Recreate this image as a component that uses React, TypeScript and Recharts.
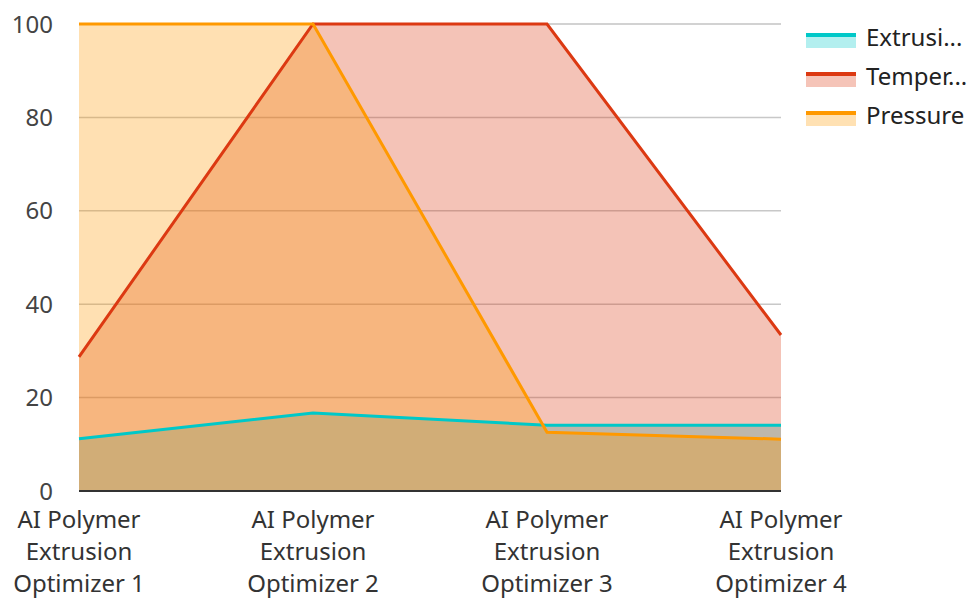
import React from "react";
import { AreaChart, Area, XAxis, YAxis, CartesianGrid, Legend } from "recharts";

const categories = [
  "AI Polymer Extrusion Optimizer 1",
  "AI Polymer Extrusion Optimizer 2",
  "AI Polymer Extrusion Optimizer 3",
  "AI Polymer Extrusion Optimizer 4",
];
const extrusion = [11.2, 16.7, 14.1, 14.1];
const temperature = [28.7, 100, 100, 33.4];
const pressure = [100, 100, 12.6, 11.1];
const yTicks = [0, 20, 40, 60, 80, 100];
const yMinorTicks = [10, 30, 50, 70, 90];

const seriesNames = ["Extrusion Rate", "Temperature", "Pressure"];
const legendLabels = ["Extrusi...", "Temper...", "Pressure"];
const seriesColors = ["#00c8c8", "#dc3912", "#ff9900"];
const seriesKeys = ["s0", "s1", "s2"];

const data = categories.map((c, i) => ({
  name: c,
  s0: extrusion[i],
  s1: temperature[i],
  s2: pressure[i],
}));

const FONT = "'Noto Sans', sans-serif";

function wrap(label: string, maxChars: number): string[] {
  const words = label.split(" ");
  const lines: string[] = [];
  let cur = "";
  for (const w of words) {
    const next = cur ? cur + " " + w : w;
    if (next.length > maxChars && cur) {
      lines.push(cur);
      cur = w;
    } else cur = next;
  }
  if (cur) lines.push(cur);
  return lines;
}

const XTick = (props: any) => {
  const { x, y, payload } = props;
  const lines = wrap(String(payload.value), 11);
  return (
    <text x={x} y={y} textAnchor="middle" fill="#333" fontSize={24} fontFamily={FONT}>
      {lines.map((l, i) => (
        <tspan key={i} x={x} y={y + 29 + i * 32}>
          {l}
        </tspan>
      ))}
    </text>
  );
};

const LegendContent = () => (
  <div style={{ position: "relative", fontFamily: FONT, fontSize: 24, color: "#222" }}>
    {legendLabels.map((n, i) => (
      <div
        key={n}
        style={{
          position: "absolute",
          left: 0,
          top: i * 39,
          height: 30,
          display: "flex",
          alignItems: "center",
          whiteSpace: "nowrap",
        }}
      >
        <div
          style={{
            width: 50,
            height: 15,
            marginTop: 6,
            background: seriesColors[i],
            position: "relative",
          }}
        >
          <div
            style={{
              position: "absolute",
              left: 0,
              top: 4,
              width: 50,
              height: 11,
              background: "rgba(255,255,255,0.7)",
            }}
          />
        </div>
        <span style={{ marginLeft: 10, lineHeight: "30px" }}>{n}</span>
      </div>
    ))}
  </div>
);

export default function App() {
  return (
    <div style={{ position: "absolute", left: 0, top: 0, background: "#fff" }}>
      <AreaChart
        width={971}
        height={598}
        data={data}
        margin={{ top: 24, right: 190, left: 0, bottom: 7 }}
      >
        <CartesianGrid yAxisId="minor" vertical={false} stroke="#ebebeb" strokeWidth={1.5} />
        <CartesianGrid yAxisId="left" vertical={false} stroke="#c8c8c8" strokeWidth={1.5} />
        <XAxis
          dataKey="name"
          tick={<XTick />}
          tickLine={false}
          axisLine={{ stroke: "#333", strokeWidth: 2 }}
          height={100}
          interval={0}
        />
        <YAxis
          yAxisId="left"
          domain={[0, 100]}
          ticks={yTicks}
          width={79}
          tickLine={false}
          axisLine={false}
          tickMargin={20}
          tick={{ fill: "#444", fontSize: 24, fontFamily: FONT }}
        />
        <YAxis yAxisId="minor" domain={[0, 100]} ticks={yMinorTicks} hide />
        <Legend
          content={<LegendContent />}
          wrapperStyle={{ position: "absolute", left: 806, top: 22, width: 165 }}
        />
        {seriesKeys.map((k, i) => (
          <Area
            key={"f" + k}
            yAxisId="left"
            type="linear"
            dataKey={k}
            name={seriesNames[i]}
            stroke="none"
            fill={seriesColors[i]}
            fillOpacity={0.3}
            dot={false}
            activeDot={false}
            legendType="none"
            isAnimationActive={false}
          />
        ))}
        {seriesKeys.map((k, i) => (
          <Area
            key={"l" + k}
            yAxisId="left"
            type="linear"
            dataKey={k}
            name={seriesNames[i] + " line"}
            stroke={seriesColors[i]}
            strokeWidth={3}
            fill="none"
            fillOpacity={0}
            dot={false}
            activeDot={false}
            legendType="none"
            isAnimationActive={false}
          />
        ))}
      </AreaChart>
    </div>
  );
}
